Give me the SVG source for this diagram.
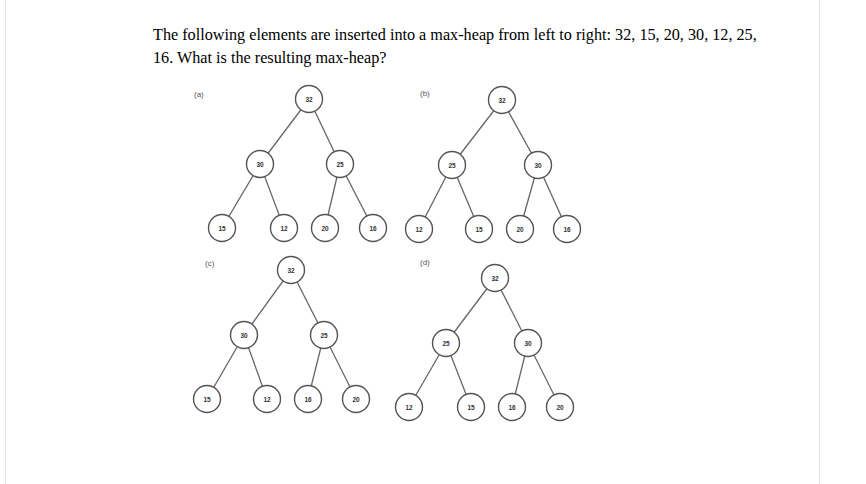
<svg xmlns="http://www.w3.org/2000/svg" width="866" height="484" viewBox="0 0 866 484">
<style>
.q{font-family:"Liberation Serif",serif;font-size:16.2px;fill:#000}
.lb{font-family:"Liberation Sans",sans-serif;font-size:8px;fill:#555}
.n circle{fill:#fff;stroke:#555;stroke-width:1.4}
.n text{font-family:"Liberation Sans",sans-serif;font-size:6.5px;font-weight:bold;fill:#333;text-anchor:middle;dominant-baseline:central}
.e line{stroke:#666;stroke-width:1.3}
</style>
<rect width="866" height="484" fill="#fff"/>
<line x1="819.5" y1="0" x2="819.5" y2="484" stroke="#e4e4e4"/>
<line x1="5.5" y1="0" x2="5.5" y2="484" stroke="#e4e4e4"/>
<text class="q" x="153" y="40">The following elements are inserted into a max-heap from left to right: 32, 15, 20, 30, 12, 25,</text>
<text class="q" x="153" y="63">16. What is the resulting max-heap?</text>
<text class="lb" x="194" y="97">(a)</text>
<text class="lb" x="420" y="96">(b)</text>
<text class="lb" x="205" y="266">(c)</text>
<text class="lb" x="420" y="265">(d)</text>
<g class="e" id="connectors">
<line x1="309" y1="99" x2="260" y2="164"/><line x1="309" y1="99" x2="340" y2="164"/>
<line x1="260" y1="164" x2="222" y2="228"/><line x1="260" y1="164" x2="284" y2="228"/>
<line x1="340" y1="164" x2="325" y2="228"/><line x1="340" y1="164" x2="373" y2="228"/>
<line x1="502" y1="100" x2="452" y2="165"/><line x1="502" y1="100" x2="538" y2="165"/>
<line x1="452" y1="165" x2="419" y2="229"/><line x1="452" y1="165" x2="479" y2="229"/>
<line x1="538" y1="165" x2="520" y2="229"/><line x1="538" y1="165" x2="567" y2="229"/>
<line x1="291" y1="270" x2="244" y2="335"/><line x1="291" y1="270" x2="324" y2="335"/>
<line x1="244" y1="335" x2="207" y2="399"/><line x1="244" y1="335" x2="267" y2="399"/>
<line x1="324" y1="335" x2="308" y2="399"/><line x1="324" y1="335" x2="356" y2="399"/>
<line x1="495" y1="278" x2="446" y2="343"/><line x1="495" y1="278" x2="528" y2="343"/>
<line x1="446" y1="343" x2="409" y2="407"/><line x1="446" y1="343" x2="471" y2="407"/>
<line x1="528" y1="343" x2="512" y2="407"/><line x1="528" y1="343" x2="560" y2="407"/>
</g>
<g class="n" id="a32"><circle cx="309" cy="99" r="13.5"/><text x="309" y="99">32</text></g>
<g class="n" id="a30"><circle cx="260" cy="164" r="13.5"/><text x="260" y="164">30</text></g>
<g class="n" id="a25"><circle cx="340" cy="164" r="13.5"/><text x="340" y="164">25</text></g>
<g class="n" id="a15"><circle cx="222" cy="228" r="13.5"/><text x="222" y="228">15</text></g>
<g class="n" id="a12"><circle cx="284" cy="228" r="13.5"/><text x="284" y="228">12</text></g>
<g class="n" id="a20"><circle cx="325" cy="228" r="13.5"/><text x="325" y="228">20</text></g>
<g class="n" id="a16"><circle cx="373" cy="228" r="13.5"/><text x="373" y="228">16</text></g>
<g class="n" id="b32"><circle cx="502" cy="100" r="13.5"/><text x="502" y="100">32</text></g>
<g class="n" id="b25"><circle cx="452" cy="165" r="13.5"/><text x="452" y="165">25</text></g>
<g class="n" id="b30"><circle cx="538" cy="165" r="13.5"/><text x="538" y="165">30</text></g>
<g class="n" id="b12"><circle cx="419" cy="229" r="13.5"/><text x="419" y="229">12</text></g>
<g class="n" id="b15"><circle cx="479" cy="229" r="13.5"/><text x="479" y="229">15</text></g>
<g class="n" id="b20"><circle cx="520" cy="229" r="13.5"/><text x="520" y="229">20</text></g>
<g class="n" id="b16"><circle cx="567" cy="229" r="13.5"/><text x="567" y="229">16</text></g>
<g class="n" id="c32"><circle cx="291" cy="270" r="13.5"/><text x="291" y="270">32</text></g>
<g class="n" id="c30"><circle cx="244" cy="335" r="13.5"/><text x="244" y="335">30</text></g>
<g class="n" id="c25"><circle cx="324" cy="335" r="13.5"/><text x="324" y="335">25</text></g>
<g class="n" id="c15"><circle cx="207" cy="399" r="13.5"/><text x="207" y="399">15</text></g>
<g class="n" id="c12"><circle cx="267" cy="399" r="13.5"/><text x="267" y="399">12</text></g>
<g class="n" id="c16"><circle cx="308" cy="399" r="13.5"/><text x="308" y="399">16</text></g>
<g class="n" id="c20"><circle cx="356" cy="399" r="13.5"/><text x="356" y="399">20</text></g>
<g class="n" id="d32"><circle cx="495" cy="278" r="13.5"/><text x="495" y="278">32</text></g>
<g class="n" id="d25"><circle cx="446" cy="343" r="13.5"/><text x="446" y="343">25</text></g>
<g class="n" id="d30"><circle cx="528" cy="343" r="13.5"/><text x="528" y="343">30</text></g>
<g class="n" id="d12"><circle cx="409" cy="407" r="13.5"/><text x="409" y="407">12</text></g>
<g class="n" id="d15"><circle cx="471" cy="407" r="13.5"/><text x="471" y="407">15</text></g>
<g class="n" id="d16"><circle cx="512" cy="407" r="13.5"/><text x="512" y="407">16</text></g>
<g class="n" id="d20"><circle cx="560" cy="407" r="13.5"/><text x="560" y="407">20</text></g>
</svg>
